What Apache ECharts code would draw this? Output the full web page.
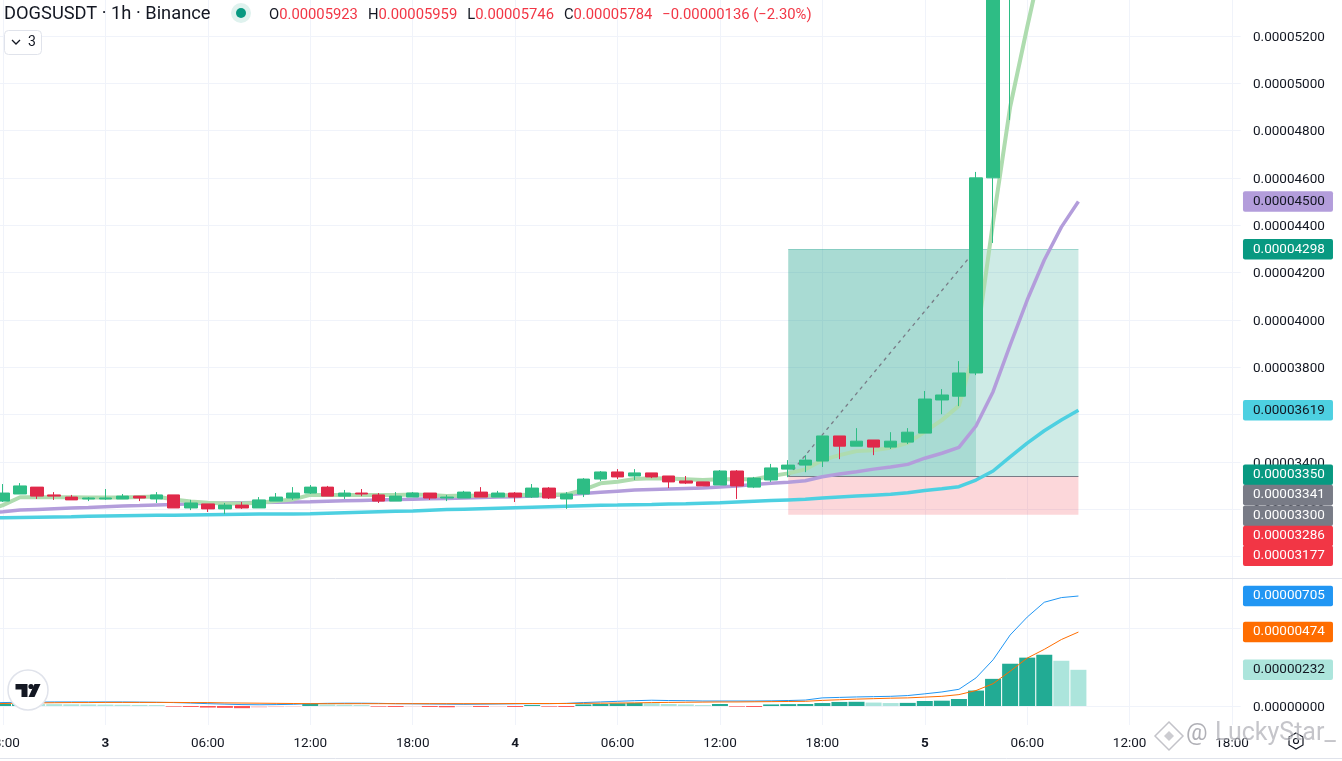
<!DOCTYPE html>
<html>
<head>
<meta charset="utf-8">
<style>html,body{margin:0;padding:0;background:#fff;overflow:hidden}#c{width:1342px;height:761px}</style>
<script src="https://cdn.jsdelivr.net/npm/echarts@6/dist/echarts.min.js"></script>
</head>
<body>
<div id="c"></div>
<script>
// All price-like values are in units of 0.00000001
const categories = ['17:00','18:00','19:00','20:00','21:00','22:00','23:00','3','01:00','02:00','03:00','04:00','05:00','06:00','07:00','08:00','09:00','10:00','11:00','12:00','13:00','14:00','15:00','16:00','17:00','18:00','19:00','20:00','21:00','22:00','23:00','4','01:00','02:00','03:00','04:00','05:00','06:00','07:00','08:00','09:00','10:00','11:00','12:00','13:00','14:00','15:00','16:00','17:00','18:00','19:00','20:00','21:00','22:00','23:00','5','01:00','02:00','03:00','04:00','05:00','06:00','07:00','08:00','09:00','10:00','11:00','12:00','13:00','14:00','15:00','16:00','17:00','18:00'];
// [open, close, low, high]
const candles = [
[3245,3235,3228,3252],
[3235,3269,3231,3307],[3265,3299,3265,3311],[3294,3256,3244,3294],[3261,3256,3240,3273],[3252,3240,3240,3261],[3244,3248,3235,3252],
[3244,3248,3240,3286],[3244,3256,3244,3265],[3256,3248,3235,3256],[3244,3261,3227,3273],[3261,3206,3206,3261],[3206,3227,3197,3240],
[3223,3202,3189,3223],[3202,3218,3180,3227],[3218,3206,3202,3231],[3206,3240,3206,3252],[3235,3252,3235,3269],[3248,3269,3240,3294],
[3269,3294,3265,3303],[3294,3256,3256,3299],[3256,3269,3244,3282],[3269,3265,3256,3286],[3261,3235,3227,3269],[3235,3256,3235,3273],
[3252,3269,3252,3273],[3269,3248,3240,3269],[3248,3252,3235,3261],[3248,3273,3248,3278],[3273,3252,3252,3294],[3252,3269,3252,3278],
[3269,3252,3231,3273],[3252,3290,3248,3307],[3290,3248,3244,3294],[3244,3265,3202,3273],[3265,3328,3252,3332],[3328,3358,3320,3362],
[3358,3337,3328,3370],[3341,3354,3324,3370],[3354,3337,3332,3354],[3341,3316,3290,3341],[3320,3311,3307,3341],[3316,3299,3299,3316],
[3303,3362,3303,3366],[3362,3299,3244,3366],[3294,3332,3290,3337],[3324,3375,3316,3392],[3370,3387,3336,3408],[3387,3408,3357,3429],
[3404,3510,3379,3510],[3510,3467,3412,3510],[3467,3488,3467,3543],[3493,3463,3429,3493],[3463,3488,3455,3526],[3484,3526,3476,3543],
[3522,3666,3522,3700],[3662,3683,3602,3708],[3678,3776,3636,3826],[3776,4600,3767,4625],[4600,5500,4325,5560],[5500,5800,4844,5950],
[5800,6050,5700,6120],[6050,5990,5850,6130],[5990,5923,5800,6020],[5923,5784,5746,5959]];
const maFast = [3195,3218,3251,3251,3251,3251,3250,3250,3250,3252,3254,3242,3233,3228,3225,3225,3228,3235,3242,3261,3261,3261,3261,3261,3261,3263,3261,3256,3259,3258,3259,3261,3262,3263,3263,3282,3310,3317,3328,3331,3330,3327,3324,3327,3327,3327,3341,3352,3369,3408,3429,3446,3450,3460,3481,3528,3577,3638,3894,4413,4899,5237,5560,5750,5850];
const maMid = [3184,3190,3197,3200,3203,3206,3208,3211,3214,3216,3219,3221,3224,3226,3227,3228,3229,3230,3231,3232,3234,3236,3238,3240,3242,3243,3245,3246,3248,3250,3252,3253,3256,3259,3263,3267,3272,3277,3282,3284,3286,3288,3290,3294,3299,3305,3310,3315,3321,3338,3349,3359,3370,3379,3390,3416,3437,3462,3552,3697,3894,4084,4253,4392,4500];
const maSlow = [3164,3165,3166,3167,3168,3169,3171,3172,3173,3174,3175,3175,3176,3177,3178,3179,3180,3180,3181,3182,3184,3186,3188,3190,3192,3193,3196,3199,3201,3203,3205,3207,3209,3211,3213,3215,3217,3218,3220,3221,3223,3224,3226,3228,3231,3234,3237,3240,3243,3248,3252,3256,3260,3264,3270,3280,3287,3296,3324,3362,3422,3480,3532,3577,3619];
const histogram = [11,13,14,13,12,11,10,9,8,7,6,-4,-6,-10,-12,-14,-10,-7,-4,13,10,8,6,-4,-6,-4,-6,-8,-4,-6,-4,-6,6,-4,-6,10,13,17,19,18,13,10,6,13,-4,-6,10,12,13,19,26,27,22,19,20,32,34,45,99,174,271,310,329,290,232];
const macdLine = [20,22,24,25,26,26,26,26,26,25,24,22,19,15,12,9,8,9,11,15,17,18,18,17,15,14,13,12,11,12,13,14,15,15,17,22,26,30,34,37,35,34,32,32,32,32,33,35,38,52,55,58,60,62,67,78,90,107,180,296,455,570,665,695,705];
const signalLine = [14,16,18,20,21,22,22,23,23,23,23,23,22,22,20,19,18,17,16,15,15,15,15,15,15,15,15,15,15,15,15,16,16,16,16,17,18,19,20,22,23,24,25,26,26,27,28,29,30,36,40,44,47,50,52,57,62,73,99,143,223,307,363,426,474];
const priceTicks = {min:2800, max:5400, step:200};
const oscTicks = {min:-500, max:1000, step:500};
const position = {startBar:47, splitBar:58, endBar:64, target:4298, entry:3341, stop:3177};
const priceTags = [
 {v:4500, bg:'#b39ddb', fg:'#131722', shift:0},
 {v:4298, bg:'#089981', fg:'#fff', shift:0},
 {v:3619, bg:'#4dd0e1', fg:'#131722', shift:0},
 {v:3350, bg:'#089981', fg:'#fff', shift:1},
 {v:3341, bg:'#787b86', fg:'#fff', shift:19},
 {v:3300, bg:'#787b86', fg:'#fff', shift:30},
 {v:3286, bg:'#f23645', fg:'#fff', shift:47},
 {v:3177, bg:'#f23645', fg:'#fff', shift:41}];
const oscTags = [
 {v:705, bg:'#2196f3', fg:'#fff', shift:0},
 {v:474, bg:'#ff6d00', fg:'#fff', shift:0},
 {v:232, bg:'#ace5dc', fg:'#131722', shift:0}];
const headerTitle = 'DOGSUSDT · 1h · Binance';
const headerValues = [['O','0.00005923'],['H','0.00005959'],['L','0.00005746'],['C','0.00005784']];
const headerChange = '−0.00000136 (−2.30%)';

const FONT = 'Roboto, "Noto Sans", sans-serif';
const GRID = '#f0f3fa', GREEN='#2ebd85', RED='#e0294a';
const fmt = v => (v/1e8).toFixed(8);
const barW = 17.07, nCat = categories.length;
const left = -22.6, width = barW*nCat;
const showTick = (i) => (i-1) % 6 === 0;
const dayLabel = s => s.indexOf(':') < 0;
const tickRich = {t:{fontFamily:FONT, fontSize:13.5, color:'#131722', padding:[3,0,0,0]}};

function tagLine(t){
  return {yAxis:t.v, lineStyle:{color:'transparent',width:0}, label:{show:true, opacity:1, position:'end', distance:2.4, formatter:fmt(t.v),
    color:t.fg, backgroundColor:t.bg, width:80, height:19, lineHeight:19, padding:[1.5,0,0,10], borderRadius:2,
    fontFamily:FONT, fontSize:13.5, align:'left', verticalAlign:'middle', offset:[0,t.shift]}};
}
const histColor = histogram.map((h,i)=>{
  const rising = i===0 || h>=histogram[i-1];
  return h>=0 ? (rising?'#22ab94':'#ace5dc') : (rising?'#fccbcd':'#ff5252');
});

const chart = echarts.init(document.getElementById('c'), null, {renderer:'canvas'});
const hiddenX = (g)=>({type:'category', gridIndex:g, data:categories, show:false, boundaryGap:true});
const ttl = headerValues.map(p=>`{k|${p[0]}}{v|${p[1]}}`).join('  ') + `  {v|${headerChange}}`;

chart.setOption({
  animation:false, backgroundColor:'#fff',
  title:[
    {text:headerTitle, left:4, top:5, padding:0, textStyle:{fontFamily:FONT, fontSize:18.3, fontWeight:'normal', color:'#131722'}},
    {text:ttl, left:269, top:6, padding:0, textStyle:{fontWeight:'normal', rich:{
       k:{fontFamily:FONT,fontSize:14.8,fontWeight:'normal',color:'#131722'},
       v:{fontFamily:FONT,fontSize:14.8,fontWeight:'normal',color:'#f23645'}}}}
  ],
  grid:[
    {left:left, width:width, top:-11.6, height:615.7, outerBoundsMode:'none'},
    {left:left, width:width, top:550, height:234, outerBoundsMode:'none'},
    {left:left, width:width, top:579, height:146, outerBoundsMode:'none'}
  ],
  xAxis:[
    {type:'category', gridIndex:0, data:categories, boundaryGap:true, axisLine:{show:false}, axisTick:{show:false}, axisLabel:{show:false},
     splitLine:{show:true, alignWithLabel:true, interval:(i)=>showTick(i), lineStyle:{color:GRID,width:1}}},
    hiddenX(1),
    {type:'category', gridIndex:2, data:categories, boundaryGap:true, axisLine:{show:false}, axisTick:{show:false},
     axisLabel:{show:true, interval:(i)=>showTick(i), margin:12, hideOverlap:false,
       color:'#131722', fontFamily:FONT, fontSize:13.5,
       formatter:(s)=> dayLabel(s) ? `{b|${s}}` : s, rich:{b:{fontFamily:FONT,fontSize:13.5,fontWeight:'bold',color:'#131722'}}},
     splitLine:{show:true, alignWithLabel:true, interval:(i)=>showTick(i), lineStyle:{color:GRID,width:1}}}
  ],
  yAxis:[
    {type:'value', gridIndex:0, position:'right', min:priceTicks.min, max:priceTicks.max, interval:priceTicks.step, scale:true,
     axisLine:{show:false}, axisTick:{show:false},
     axisLabel:{margin:12.4, showMinLabel:false, showMaxLabel:false, formatter:(v)=>`{t|${fmt(v)}}`, rich:tickRich},
     splitLine:{show:true, showMinLine:false, showMaxLine:false, lineStyle:{color:GRID,width:1}}},
    {type:'value', gridIndex:1, position:'right', min:oscTicks.min, max:oscTicks.max, interval:oscTicks.step,
     axisLine:{show:false}, axisTick:{show:false},
     axisLabel:{margin:12.4, showMinLabel:false, showMaxLabel:false, formatter:(v)=>`{t|${fmt(v)}}`, rich:tickRich},
     splitLine:{show:true, showMinLine:false, showMaxLine:false, lineStyle:{color:GRID,width:1}}},
    {type:'value', gridIndex:2, show:false, min:0, max:1, splitLine:{show:false}}
  ],
  series:[
    {type:'line', name:'position', xAxisIndex:0, yAxisIndex:0, data:[], z:1, symbol:'none', silent:true,
     markArea:{silent:true, z:1, data:[
       [{coord:[position.startBar,position.target], itemStyle:{color:'rgba(8,153,129,0.35)'}},{coord:[position.splitBar,position.entry]}],
       [{coord:[position.splitBar,position.target], itemStyle:{color:'rgba(8,153,129,0.2)'}},{coord:[position.endBar,position.entry]}],
       [{coord:[position.startBar,position.entry], itemStyle:{color:'rgba(242,54,69,0.2)'}},{coord:[position.endBar,position.stop]}]
     ]},
     markLine:{silent:true, symbol:'none', z:1, label:{show:false}, data:[
       [{coord:[position.startBar,position.entry], lineStyle:{color:'#787b86',width:1,type:'solid'}},{coord:[position.endBar,position.entry]}],
       [{coord:[position.startBar,position.target], lineStyle:{color:'rgba(8,153,129,0.3)',width:1,type:'solid'}},{coord:[position.endBar,position.target]}],
       [{coord:[position.startBar,position.entry], lineStyle:{color:'#787b86',width:1.3,type:[3.5,4]}},{coord:[position.splitBar,position.target]}]
     ]}},
    {type:'line', name:'maSlow', xAxisIndex:0, yAxisIndex:0, data:maSlow, z:2, symbol:'none', lineStyle:{color:'#4dd0e1',width:3.5}},
    {type:'line', name:'maMid', xAxisIndex:0, yAxisIndex:0, data:maMid, z:2, symbol:'none', lineStyle:{color:'#b39ddb',width:3.5}},
    {type:'line', name:'maFast', xAxisIndex:0, yAxisIndex:0, data:maFast, z:2, symbol:'none', lineStyle:{color:'#aedcaf',width:4}},
    {type:'candlestick', name:'price', xAxisIndex:0, yAxisIndex:0, data:candles, z:3, barWidth:13,
     itemStyle:{color:GREEN,color0:RED,borderColor:GREEN,borderColor0:RED,borderWidth:1}},
    {type:'line', name:'priceTags', xAxisIndex:0, yAxisIndex:0, data:[], z:10, symbol:'none',
     markLine:{silent:true, symbol:'none', z:10, animation:false, data:priceTags.map(tagLine)}},
    {type:'bar', name:'histogram', xAxisIndex:1, yAxisIndex:1, barWidth:16, z:2,
     data:histogram.map((h,i)=>({value:h,itemStyle:{color:histColor[i]}}))},
    {type:'line', name:'macd', xAxisIndex:1, yAxisIndex:1, data:macdLine, z:3, symbol:'none', lineStyle:{color:'#2196f3',width:1}},
    {type:'line', name:'signal', xAxisIndex:1, yAxisIndex:1, data:signalLine, z:3, symbol:'none', lineStyle:{color:'#ff6d00',width:1}},
    {type:'line', name:'oscTags', xAxisIndex:1, yAxisIndex:1, data:[], z:10, symbol:'none',
     markLine:{silent:true, symbol:'none', z:10, data:oscTags.map(tagLine)}}
  ],
  graphic:[
    {type:'line', z:20, shape:{x1:0,y1:578.5,x2:1342,y2:578.5}, style:{stroke:'#e0e3eb',lineWidth:1}},
    {type:'line', z:20, shape:{x1:0,y1:758.5,x2:1342,y2:758.5}, style:{stroke:'#e0e3eb',lineWidth:1}},
    {type:'circle', z:20, shape:{cx:241,cy:13,r:10}, style:{fill:'#dff2ee'}},
    {type:'circle', z:21, shape:{cx:241,cy:13,r:5}, style:{fill:'#089981'}},
    {type:'rect', z:20, shape:{x:4.5,y:30.5,width:37,height:24,r:4}, style:{fill:'#fff',stroke:'#e0e3eb',lineWidth:1}},
    {type:'polyline', z:21, shape:{points:[[12,40],[16,44],[20,40]]}, style:{stroke:'#131722',lineWidth:1.3,fill:null}},
    {type:'text', z:21, x:28, y:35, style:{text:'3',fontFamily:FONT,fontSize:14,fill:'#131722'}},
    // TradingView badge
    {type:'circle', z:20, shape:{cx:28,cy:690,r:20}, style:{fill:'#fff',stroke:'#e0e3eb',lineWidth:1.5}},
    {type:'polygon', z:21, shape:{points:[[15.5,684],[27.5,684],[27.5,697],[21.5,697],[21.5,689.5],[15.5,689.5]]}, style:{fill:'#131722'}},
    {type:'polygon', z:21, shape:{points:[[34.5,684],[40.5,684],[34.5,697],[28.5,697]]}, style:{fill:'#131722'}},
    {type:'circle', z:21, shape:{cx:31,cy:686.5,r:2.6}, style:{fill:'#131722'}},
    // watermark
    {type:'polygon', z:22, shape:{points:[[1169,722],[1183,736],[1169,750],[1155,736]]}, style:{fill:'rgba(255,255,255,0.7)',stroke:'rgba(170,170,178,0.7)',lineWidth:1.5}},
    {type:'polygon', z:22, shape:{points:[[1169,731],[1174,736],[1169,741],[1164,736]]}, style:{fill:'rgba(170,170,178,0.6)'}},
    {type:'polygon', z:22, shape:{points:[[1296,733],[1303,737],[1303,745],[1296,749],[1289,745],[1289,737]]}, style:{fill:'rgba(255,255,255,0.8)',stroke:'#131722',lineWidth:1.2}},
    {type:'circle', z:22, shape:{cx:1296,cy:741,r:2.5}, style:{fill:'none',stroke:'#131722',lineWidth:1.2}},
    {type:'text', z:22, x:1186, y:722, style:{text:'@',fontFamily:FONT,fontSize:24,fill:'rgba(150,150,158,0.75)',stroke:'rgba(255,255,255,0.6)',lineWidth:1}},
    {type:'text', z:22, x:1215, y:721, style:{text:'LuckyStar_',fontFamily:FONT,fontSize:25,fill:'rgba(150,150,158,0.55)',stroke:'rgba(255,255,255,0.6)',lineWidth:1}}
  ]
});
</script>
</body>
</html>
